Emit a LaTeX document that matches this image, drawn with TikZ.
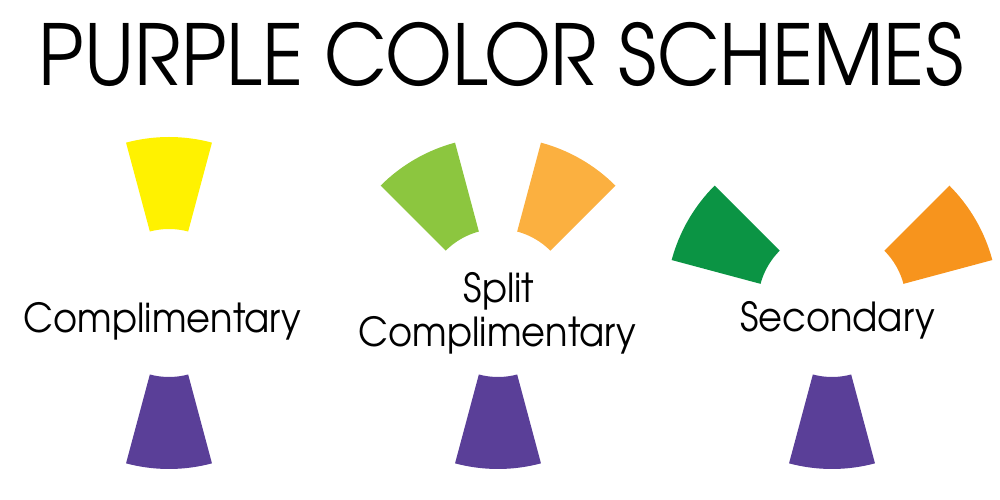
\documentclass[tikz,border=0pt]{standalone}
\usepackage{fontspec}
\setmainfont{TeX Gyre Adventor}
\definecolor{swYellow}{HTML}{FFF200}
\definecolor{swPurple}{HTML}{5A3F98}
\definecolor{swLime}{HTML}{8CC63F}
\definecolor{swApricot}{HTML}{FBB040}
\definecolor{swGreen}{HTML}{0B9444}
\definecolor{swOrange}{HTML}{F7941D}
\begin{document}
\begin{tikzpicture}[x=1pt, y=1pt]
    % Define styles
    \tikzset{
        heading/.style={
            font=\fontsize{84}{90}\selectfont,
            inner sep=0pt,
            anchor=base
        },
        label/.style={
            font=\fontsize{40}{44}\selectfont,
            inner sep=0pt,
            anchor=base,
            xscale=0.92
        }
    }
    \useasboundingbox (0,0) rectangle (1000,500);

    % Title
    \node[heading, xscale=0.915] (title) at (501,414) {PURPLE COLOR SCHEMES};

    % Scheme 1: Complimentary
    \begin{scope}[shift={(169,197)}]
        \foreach \a/\col in {75/swYellow, 255/swPurple}
            \fill[\col] (\a:74pt) arc[start angle=\a, end angle=\a+30, radius=74pt]
                -- ({\a+30}:166pt) arc[start angle=\a+30, end angle=\a, radius=166pt] -- cycle;
    \end{scope}
    \node[label] (compl) at (162.5,167) {Complimentary};

    % Scheme 2: Split Complimentary
    \begin{scope}[shift={(498,197)}]
        \foreach \a/\col in {105/swLime, 45/swApricot, 255/swPurple}
            \fill[\col] (\a:74pt) arc[start angle=\a, end angle=\a+30, radius=74pt]
                -- ({\a+30}:166pt) arc[start angle=\a+30, end angle=\a, radius=166pt] -- cycle;
    \end{scope}
    \node[label] (split) at (499,197) {Split};
    \node[label] (splitcompl) at (497.5,153) {Complimentary};

    % Scheme 3: Secondary
    \begin{scope}[shift={(832,197)}]
        \foreach \a/\col in {135/swGreen, 15/swOrange, 255/swPurple}
            \fill[\col] (\a:74pt) arc[start angle=\a, end angle=\a+30, radius=74pt]
                -- ({\a+30}:166pt) arc[start angle=\a+30, end angle=\a, radius=166pt] -- cycle;
    \end{scope}
    \node[label] (second) at (837.5,168) {Secondary};

\end{tikzpicture}
\end{document}
